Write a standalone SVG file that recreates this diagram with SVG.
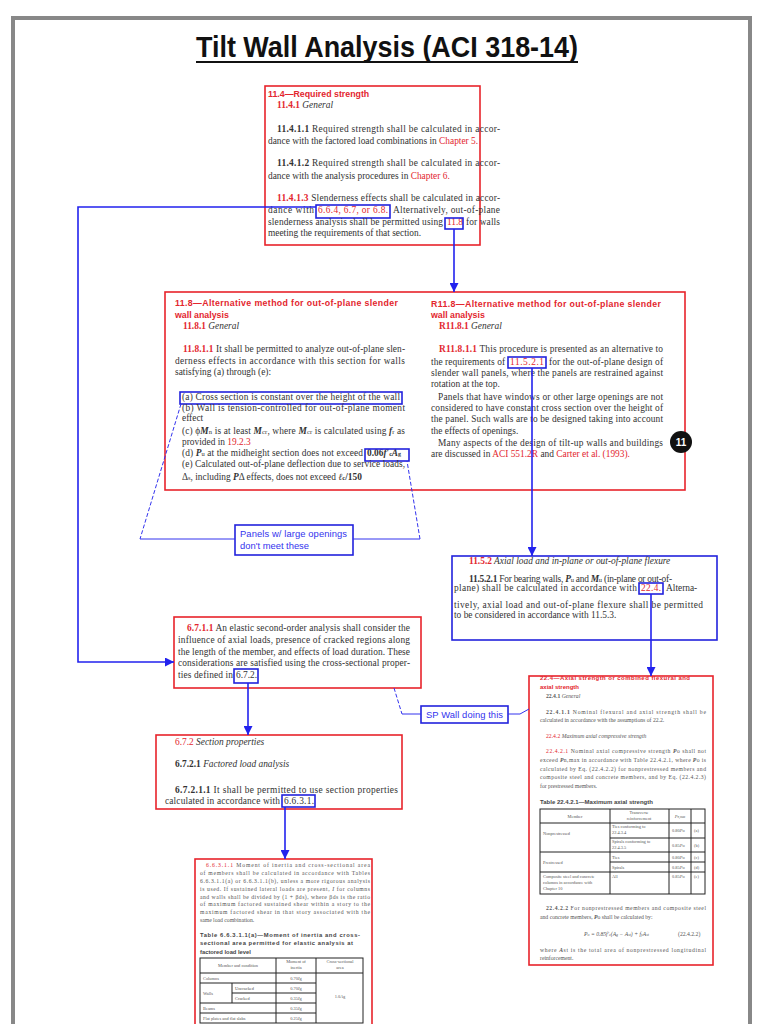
<svg xmlns="http://www.w3.org/2000/svg" width="768" height="1024" viewBox="0 0 768 1024">
<style>
.t{font-family:"Liberation Serif","Times New Roman",serif;fill:#333;font-size:9.4px}
.sm{font-size:5.7px;fill:#555}
.xs{font-size:4.4px;fill:#555}
.r{fill:#e3262e}
.b{font-weight:bold}
.i{font-style:italic}
.h{font-family:"Liberation Sans",Arial,sans-serif;font-weight:bold;fill:#e3262e;font-size:8.8px}
.rbox{fill:none;stroke:#e8232b;stroke-width:1.6}
.bbox{fill:none;stroke:#2222dd;stroke-width:1.6}
.conn{fill:none;stroke:#2222ee;stroke-width:1.6}
.lead{fill:none;stroke:#3333ee;stroke-width:1}
.dash{stroke-dasharray:4 2}
.lbl{font-family:"Liberation Sans",Arial,sans-serif;fill:#3333ee;font-size:9.4px}
.tab{fill:none;stroke:#222;stroke-width:1}
</style>
<defs>
<marker id="ah" viewBox="0 0 10 10" refX="10" refY="5" markerWidth="9" markerHeight="9" markerUnits="userSpaceOnUse" orient="auto"><path d="M0,0 L10,5 L0,10 z" fill="#2222ee"/></marker>
</defs>
<rect width="768" height="1024" fill="#fff"/>
<rect x="13" y="18" width="737" height="1020" fill="none" stroke="#888" stroke-width="4"/>
<g id="title">
<text x="387" y="57" text-anchor="middle" textLength="382" lengthAdjust="spacingAndGlyphs" style="font-family:'Liberation Sans Narrow','Liberation Sans',Arial,sans-serif;font-weight:bold;font-size:29px;fill:#111">Tilt Wall Analysis (ACI 318-14)</text>
<line x1="196" y1="62" x2="578" y2="62" stroke="#111" stroke-width="1.8"/>
</g>

<g id="node-11-4">
<rect class="rbox" x="265" y="86" width="215" height="159"/>
<text class="h" x="268" y="97">11.4—Required strength</text>
<text class="t" x="277" y="108"><tspan class="r b">11.4.1</tspan><tspan class="i"> General</tspan></text>
<text class="t" x="277" y="132" textLength="223" lengthAdjust="spacing"><tspan class="b">11.4.1.1</tspan> Required strength shall be calculated in accor-</text>
<text class="t" x="268" y="144">dance with the factored load combinations in <tspan class="r">Chapter 5.</tspan></text>
<text class="t" x="277" y="166" textLength="223" lengthAdjust="spacing"><tspan class="b">11.4.1.2</tspan> Required strength shall be calculated in accor-</text>
<text class="t" x="268" y="179">dance with the analysis procedures in <tspan class="r">Chapter 6.</tspan></text>
<text class="t" x="277" y="201" textLength="223" lengthAdjust="spacing"><tspan class="r b">11.4.1.3</tspan> Slenderness effects shall be calculated in accor-</text>
<text class="t" x="268" y="213" textLength="46" lengthAdjust="spacing">dance with</text>
<text class="t r" x="318" y="213" textLength="70" lengthAdjust="spacing">6.6.4, 6.7, or 6.8.</text>
<text class="t" x="393" y="213" textLength="107" lengthAdjust="spacing">Alternatively, out-of-plane</text>
<rect class="bbox" x="316" y="205" width="74" height="13"/>
<text class="t" x="268" y="225" textLength="175" lengthAdjust="spacing">slenderness analysis shall be permitted using</text>
<text class="t r" x="447" y="225">11.8</text>
<text class="t" x="466" y="225" textLength="34" lengthAdjust="spacing">for walls</text>
<rect class="bbox" x="445" y="218" width="18" height="11"/>
<text class="t" x="268" y="236">meeting the requirements of that section.</text>
</g>

<g id="node-11-8">
<rect class="rbox" x="165" y="292" width="520" height="198"/>
<text class="h" x="175" y="306" textLength="223" lengthAdjust="spacing">11.8—Alternative method for out-of-plane slender</text>
<text class="h" x="175" y="318">wall analysis</text>
<text class="t" x="183" y="329"><tspan class="r b">11.8.1</tspan><tspan class="i"> General</tspan></text>
<text class="t" x="183" y="352" textLength="222" lengthAdjust="spacing"><tspan class="r b">11.8.1.1</tspan> It shall be permitted to analyze out-of-plane slen-</text>
<text class="t" x="175" y="364" textLength="230" lengthAdjust="spacing">derness effects in accordance with this section for walls</text>
<text class="t" x="175" y="375">satisfying (a) through (e):</text>
<text class="t" x="182" y="400" textLength="218" lengthAdjust="spacing">(a) Cross section is constant over the height of the wall</text>
<rect class="bbox" x="180" y="392" width="222" height="12"/>
<text class="t" x="182" y="411" textLength="223" lengthAdjust="spacing">(b) Wall is tension-controlled for out-of-plane moment</text>
<text class="t" x="182" y="421">effect</text>
<text class="t" x="182" y="434" textLength="223" lengthAdjust="spacing">(c) ϕ<tspan class="b i">M</tspan><tspan font-size="6.5">n</tspan> is at least <tspan class="b i">M</tspan><tspan font-size="6.5">cr</tspan>, where <tspan class="b i">M</tspan><tspan font-size="6.5">cr</tspan> is calculated using <tspan class="b i">f</tspan><tspan font-size="6.5">r</tspan> as</text>
<text class="t" x="182" y="445">provided in <tspan class="r">19.2.3</tspan></text>
<text class="t" x="182" y="456" textLength="181" lengthAdjust="spacing">(d) <tspan class="b i">P</tspan><tspan font-size="6.5">u</tspan> at the midheight section does not exceed</text>
<text class="t b" x="367" y="456">0.06<tspan class="i">f′</tspan><tspan font-size="6">c</tspan><tspan class="i">A</tspan><tspan font-size="6">g</tspan></text>
<rect class="bbox" x="365" y="449" width="44" height="12"/>
<text class="t" x="182" y="467" textLength="223" lengthAdjust="spacing">(e) Calculated out-of-plane deflection due to service loads,</text>
<text class="t" x="182" y="480">Δ<tspan font-size="6.5">s</tspan>, including <tspan class="b i">P</tspan>Δ effects, does not exceed <tspan class="b i">ℓ</tspan><tspan font-size="6.5" class="b">c</tspan><tspan class="b">/150</tspan></text>

<text class="h" x="431" y="307" textLength="230" lengthAdjust="spacing">R11.8—Alternative method for out-of-plane slender</text>
<text class="h" x="431" y="318">wall analysis</text>
<text class="t" x="439" y="329"><tspan class="r b">R11.8.1</tspan><tspan class="i"> General</tspan></text>
<text class="t" x="439" y="352" textLength="224" lengthAdjust="spacing"><tspan class="r b">R11.8.1.1</tspan> This procedure is presented as an alternative to</text>
<text class="t" x="431" y="365" textLength="74" lengthAdjust="spacing">the requirements of</text>
<text class="t r" x="510" y="365" textLength="34" lengthAdjust="spacing">11.5.2.1</text>
<text class="t" x="549" y="365" textLength="114" lengthAdjust="spacing">for the out-of-plane design of</text>
<rect class="bbox" x="508" y="357" width="38" height="11"/>
<text class="t" x="431" y="376" textLength="232" lengthAdjust="spacing">slender wall panels, where the panels are restrained against</text>
<text class="t" x="431" y="387">rotation at the top.</text>
<text class="t" x="438" y="400" textLength="225" lengthAdjust="spacing">Panels that have windows or other large openings are not</text>
<text class="t" x="431" y="411" textLength="232" lengthAdjust="spacing">considered to have constant cross section over the height of</text>
<text class="t" x="431" y="422" textLength="232" lengthAdjust="spacing">the panel. Such walls are to be designed taking into account</text>
<text class="t" x="431" y="434">the effects of openings.</text>
<text class="t" x="438" y="446" textLength="225" lengthAdjust="spacing">Many aspects of the design of tilt-up walls and buildings</text>
<text class="t" x="431" y="457">are discussed in <tspan class="r">ACI 551.2R</tspan> and <tspan class="r">Carter et al. (1993).</tspan></text>
<circle cx="681" cy="442" r="11" fill="#111"/>
<text x="681" y="446" text-anchor="middle" style="font-family:'Liberation Sans',Arial,sans-serif;font-weight:bold;font-size:10px;fill:#fff">11</text>
</g>

<g id="label-panels">
<rect class="bbox" x="235" y="525" width="118" height="30"/>
<text class="lbl" x="240" y="537" textLength="107" lengthAdjust="spacing">Panels w/ large openings</text>
<text class="lbl" x="240" y="549">don't meet these</text>
</g>

<g id="node-11-5-2">
<rect class="bbox" x="452" y="556" width="265" height="84"/>
<text class="t" x="469" y="564"><tspan class="r b">11.5.2</tspan><tspan class="i"> Axial load and in-plane or out-of-plane flexure</tspan></text>
<text class="t" x="469" y="582" textLength="203" lengthAdjust="spacing"><tspan class="b">11.5.2.1</tspan> For bearing walls, <tspan class="b i">P</tspan><tspan font-size="6.5">u</tspan> and <tspan class="b i">M</tspan><tspan font-size="6.5">u</tspan> (in-plane or out-of-</text>
<text class="t" x="454" y="591" textLength="183" lengthAdjust="spacing">plane) shall be calculated in accordance with</text>
<text class="t r" x="641" y="591" textLength="20" lengthAdjust="spacing">22.4.</text>
<text class="t" x="666" y="591">Alterna-</text>
<rect class="bbox" x="639" y="583" width="24" height="11"/>
<text class="t" x="454" y="608" textLength="249" lengthAdjust="spacing">tively, axial load and out-of-plane flexure shall be permitted</text>
<text class="t" x="454" y="618">to be considered in accordance with 11.5.3.</text>
</g>

<g id="node-6-7-1-1">
<rect class="rbox" x="174" y="617" width="247" height="71"/>
<text class="t" x="187" y="631" textLength="223" lengthAdjust="spacing"><tspan class="r b">6.7.1.1</tspan> An elastic second-order analysis shall consider the</text>
<text class="t" x="178" y="643" textLength="232" lengthAdjust="spacing">influence of axial loads, presence of cracked regions along</text>
<text class="t" x="178" y="655" textLength="232" lengthAdjust="spacing">the length of the member, and effects of load duration. These</text>
<text class="t" x="178" y="666" textLength="232" lengthAdjust="spacing">considerations are satisfied using the cross-sectional proper-</text>
<text class="t" x="178" y="678" textLength="55" lengthAdjust="spacing">ties defined in</text>
<text class="t" x="236" y="678" textLength="21" lengthAdjust="spacing">6.7.2.</text>
<rect class="bbox" x="234" y="669" width="24" height="14"/>
</g>

<g id="label-spwall">
<rect class="bbox" x="421" y="706" width="87" height="17"/>
<text class="lbl" x="426" y="718" textLength="77" lengthAdjust="spacing">SP Wall doing this</text>
</g>

<g id="node-6-7-2">
<rect class="rbox" x="156" y="735" width="246" height="74"/>
<text class="t" x="175" y="745"><tspan class="r">6.7.2</tspan><tspan class="i"> Section properties</tspan></text>
<text class="t" x="175" y="767"><tspan class="b">6.7.2.1</tspan><tspan class="i"> Factored load analysis</tspan></text>
<text class="t" x="175" y="793" textLength="223" lengthAdjust="spacing"><tspan class="b">6.7.2.1.1</tspan> It shall be permitted to use section properties</text>
<text class="t" x="165" y="804" textLength="115" lengthAdjust="spacing">calculated in accordance with</text>
<text class="t" x="284" y="804" textLength="30" lengthAdjust="spacing">6.6.3.1.</text>
<rect class="bbox" x="282" y="795" width="33" height="12"/>
</g>

<g id="node-22-4">
<rect class="rbox" x="529" y="676" width="184" height="289"/>
<text class="h" x="540" y="680" style="font-size:6px" textLength="150" lengthAdjust="spacing">22.4—Axial strength or combined flexural and</text>
<text class="h" x="540" y="689" style="font-size:6px">axial strength</text>
<text class="t sm" x="546" y="698"><tspan class="b">22.4.1</tspan><tspan class="i"> General</tspan></text>
<text class="t sm" x="546" y="714" textLength="160" lengthAdjust="spacing"><tspan class="b">22.4.1.1</tspan> Nominal flexural and axial strength shall be</text>
<text class="t sm" x="540" y="722">calculated in accordance with the assumptions of 22.2.</text>
<text class="t sm" x="546" y="738"><tspan class="r">22.4.2</tspan><tspan class="i"> Maximum axial compressive strength</tspan></text>
<text class="t sm" x="546" y="753" textLength="160" lengthAdjust="spacing"><tspan class="r">22.4.2.1</tspan> Nominal axial compressive strength <tspan class="b i">P</tspan>o shall not</text>
<text class="t sm" x="540" y="762" textLength="166" lengthAdjust="spacing">exceed <tspan class="b i">P</tspan>n,max in accordance with Table 22.4.2.1, where <tspan class="b i">P</tspan>o is</text>
<text class="t sm" x="540" y="771" textLength="166" lengthAdjust="spacing">calculated by Eq. (22.4.2.2) for nonprestressed members and</text>
<text class="t sm" x="540" y="779" textLength="166" lengthAdjust="spacing">composite steel and concrete members, and by Eq. (22.4.2.3)</text>
<text class="t sm" x="540" y="788">for prestressed members.</text>
<text x="540" y="804" style="font-family:'Liberation Sans',Arial,sans-serif;font-weight:bold;font-size:6px;fill:#444">Table 22.4.2.1—Maximum axial strength</text>
<rect class="tab" x="540" y="809" width="165" height="85" stroke-width="1.3"/>
<path class="tab" d="M610,809V894M669,809V894M691,809V894M540,823H705M540,852H705M540,872H705M610,838H705M610,862H705"/>
<g class="t xs">
<text x="575" y="818" text-anchor="middle">Member</text>
<text x="639" y="814" text-anchor="middle">Transverse</text>
<text x="639" y="820" text-anchor="middle">reinforcement</text>
<text x="680" y="818" text-anchor="middle" class="i">P<tspan font-size="3.2">n,max</tspan></text>
<text x="543" y="835">Nonprestressed</text>
<text x="612" y="828">Ties conforming to</text>
<text x="612" y="834">22.4.3.4</text>
<text x="672" y="832">0.80<tspan class="i">P</tspan>o</text>
<text x="694" y="832">(a)</text>
<text x="612" y="843">Spirals conforming to</text>
<text x="612" y="849">22.4.3.5</text>
<text x="672" y="847">0.85<tspan class="i">P</tspan>o</text>
<text x="694" y="847">(b)</text>
<text x="543" y="864">Prestressed</text>
<text x="612" y="859">Ties</text>
<text x="672" y="859">0.80<tspan class="i">P</tspan>o</text>
<text x="694" y="859">(c)</text>
<text x="612" y="869">Spirals</text>
<text x="672" y="869">0.85<tspan class="i">P</tspan>o</text>
<text x="694" y="869">(d)</text>
<text x="543" y="878">Composite steel and concrete</text>
<text x="543" y="884">columns in accordance with</text>
<text x="543" y="890">Chapter 10</text>
<text x="612" y="878">All</text>
<text x="672" y="878">0.85<tspan class="i">P</tspan>o</text>
<text x="694" y="878">(e)</text>
</g>
<text class="t sm" x="546" y="910" textLength="160" lengthAdjust="spacing"><tspan class="b">22.4.2.2</tspan> For nonprestressed members and composite steel</text>
<text class="t sm" x="540" y="919">and concrete members, <tspan class="b i">P</tspan>o shall be calculated by:</text>
<text class="t sm i" x="584" y="936">P<tspan font-size="4">o</tspan> = 0.85f′<tspan font-size="4">c</tspan>(A<tspan font-size="4">g</tspan> − A<tspan font-size="4">st</tspan>) + f<tspan font-size="4">y</tspan>A<tspan font-size="4">st</tspan></text>
<text class="t sm" x="678" y="936">(22.4.2.2)</text>
<text class="t sm" x="540" y="952" textLength="166" lengthAdjust="spacing">where <tspan class="b i">A</tspan>st is the total area of nonprestressed longitudinal</text>
<text class="t sm" x="540" y="960">reinforcement.</text>
</g>

<g id="node-6-6-3-1-1">
<rect class="rbox" x="195" y="859" width="177" height="180"/>
<text class="t sm" x="206" y="867" textLength="164" lengthAdjust="spacing"><tspan class="r">6.6.3.1.1</tspan> Moment of inertia and cross-sectional area</text>
<text class="t sm" x="200" y="875" textLength="170" lengthAdjust="spacing">of members shall be calculated in accordance with Tables</text>
<text class="t sm" x="200" y="883" textLength="170" lengthAdjust="spacing">6.6.3.1.1(a) or 6.6.3.1.1(b), unless a more rigorous analysis</text>
<text class="t sm" x="200" y="891" textLength="170" lengthAdjust="spacing">is used. If sustained lateral loads are present, <tspan class="i">I</tspan> for columns</text>
<text class="t sm" x="200" y="899" textLength="170" lengthAdjust="spacing">and walls shall be divided by (1 + βds), where βds is the ratio</text>
<text class="t sm" x="200" y="906" textLength="170" lengthAdjust="spacing">of maximum factored sustained shear within a story to the</text>
<text class="t sm" x="200" y="914" textLength="170" lengthAdjust="spacing">maximum factored shear in that story associated with the</text>
<text class="t sm" x="200" y="922">same load combination.</text>
<text x="200" y="937" textLength="160" lengthAdjust="spacing" style="font-family:'Liberation Sans',Arial,sans-serif;font-weight:bold;font-size:5.8px;fill:#444">Table 6.6.3.1.1(a)—Moment of inertia and cross-</text>
<text x="200" y="945" textLength="153" lengthAdjust="spacing" style="font-family:'Liberation Sans',Arial,sans-serif;font-weight:bold;font-size:5.8px;fill:#444">sectional area permitted for elastic analysis at</text>
<text x="200" y="954" style="font-family:'Liberation Sans',Arial,sans-serif;font-weight:bold;font-size:5.8px;fill:#444">factored load level</text>
<rect class="tab" x="200" y="958" width="163" height="65"/>
<path class="tab" d="M276,958V1023M316,958V1023M200,973H363M200,983H316M232,993H316M200,1003H316M200,1013H316M232,983V1003"/>
<g class="t xs">
<text x="238" y="967" text-anchor="middle">Member and condition</text>
<text x="296" y="963" text-anchor="middle">Moment of</text>
<text x="296" y="969" text-anchor="middle">inertia</text>
<text x="340" y="963" text-anchor="middle">Cross-sectional</text>
<text x="340" y="969" text-anchor="middle">area</text>
<text x="203" y="980">Columns</text>
<text x="296" y="980" text-anchor="middle">0.70<tspan class="i">I</tspan>g</text>
<text x="203" y="995">Walls</text>
<text x="235" y="990">Uncracked</text>
<text x="296" y="990" text-anchor="middle">0.70<tspan class="i">I</tspan>g</text>
<text x="235" y="1000">Cracked</text>
<text x="296" y="1000" text-anchor="middle">0.35<tspan class="i">I</tspan>g</text>
<text x="203" y="1010">Beams</text>
<text x="296" y="1010" text-anchor="middle">0.35<tspan class="i">I</tspan>g</text>
<text x="203" y="1020">Flat plates and flat slabs</text>
<text x="296" y="1020" text-anchor="middle">0.25<tspan class="i">I</tspan>g</text>
<text x="340" y="998" text-anchor="middle">1.0<tspan class="i">A</tspan>g</text>
</g>
</g>

<g id="connectors">
<path class="conn" d="M316,207 H78 V662 H174" marker-end="url(#ah)"/>
<path class="conn" d="M454,229 V292" marker-end="url(#ah)" stroke="#6a6af5"/>
<path class="conn" d="M532,368 V556" marker-end="url(#ah)"/>
<path class="conn" d="M651,594 V676" marker-end="url(#ah)"/>
<path class="conn" d="M248,683 V735" marker-end="url(#ah)"/>
<path class="conn" d="M285,807 V859" marker-end="url(#ah)"/>
<path class="lead dash" d="M181,404 L140,539"/>
<path class="lead" d="M140,539 H235"/>
<path class="lead" d="M353,539 H420"/>
<path class="lead dash" d="M420,539 L407,461"/>
<path class="lead dash" d="M394,688 L402,714"/>
<path class="lead" d="M402,714 H421"/>
<path class="lead" d="M508,714 H520 L529,709"/>
</g>
</svg>
